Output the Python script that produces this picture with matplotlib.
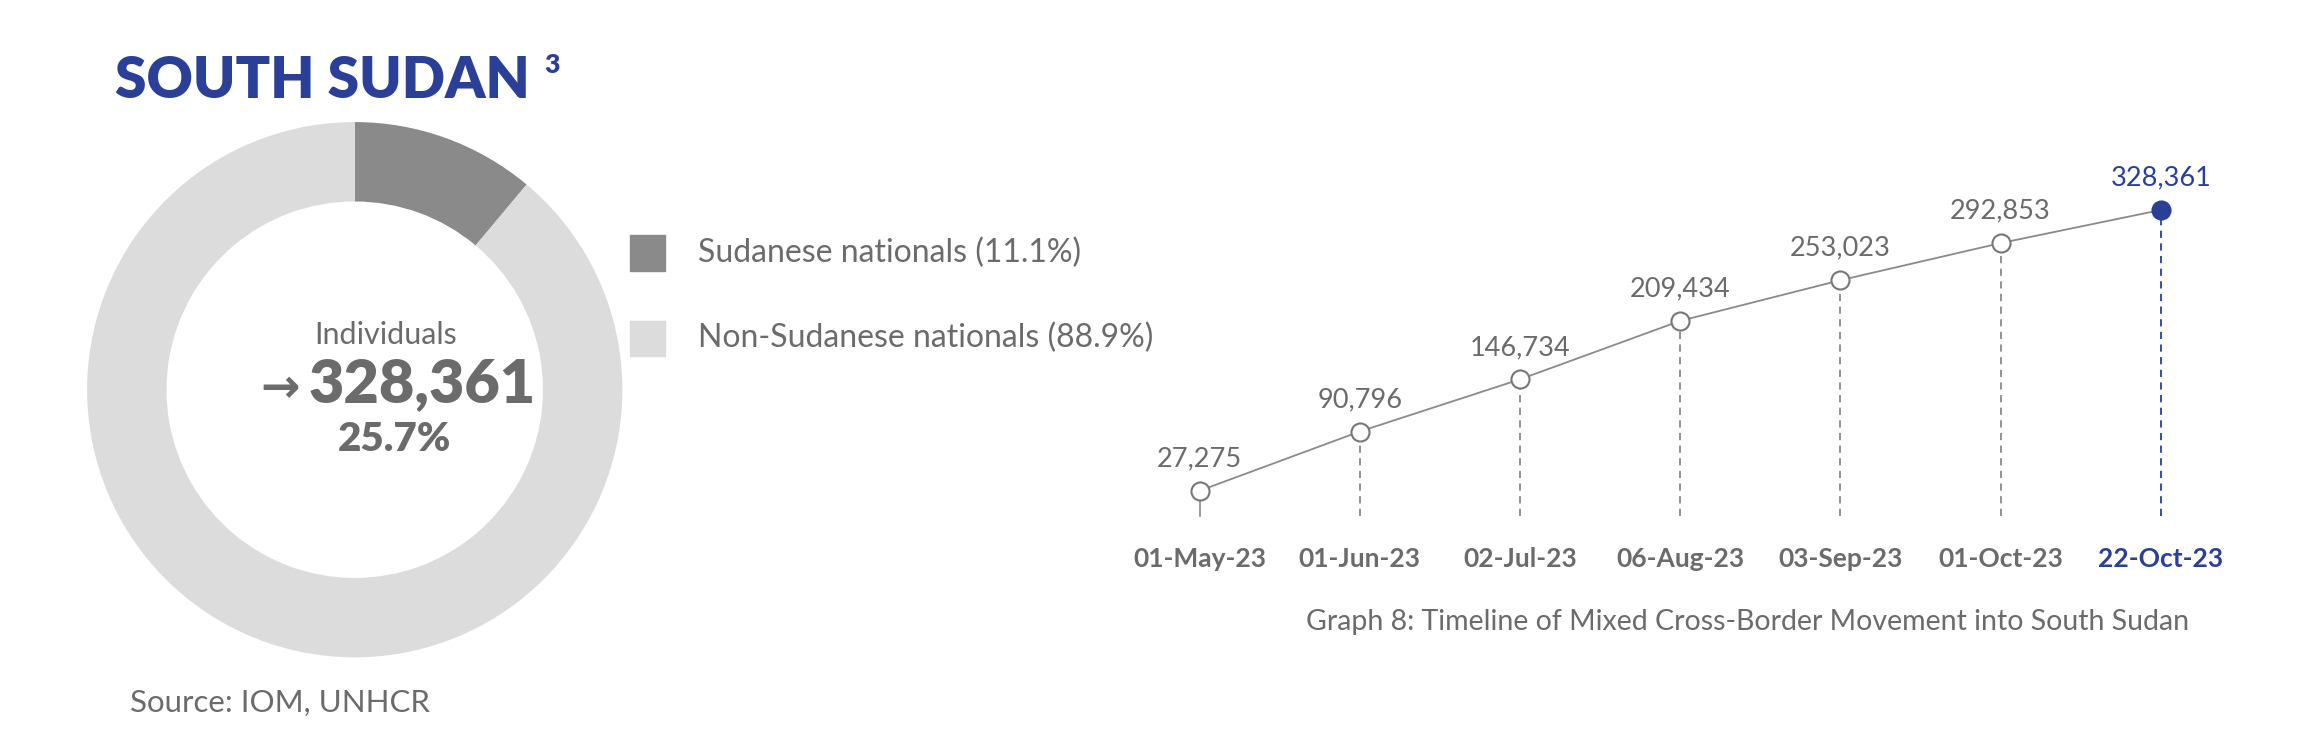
import matplotlib
matplotlib.use("Agg")
import matplotlib.pyplot as plt

plt.rcParams['font.family'] = ['Lato', 'DejaVu Sans']

share_labels = ["Sudanese nationals (11.1%)", "Non-Sudanese nationals (88.9%)"]
share_values = [11.1, 88.9]
dates = ["01-May-23", "01-Jun-23", "02-Jul-23", "06-Aug-23", "03-Sep-23", "01-Oct-23", "22-Oct-23"]
totals = [27275, 90796, 146734, 209434, 253023, 292853, 328361]

W, H = 1568, 510
def fx(x): return x / W
def fy(y): return 1 - y / H

fig = plt.figure(figsize=(23.08, 7.5), dpi=100)
fig.patch.set_facecolor("white")
blue = "#2a3f98"
gray = "#6b6b6b"
colors = ["#8a8a8a", "#dcdcdc"]

fig.text(fx(78), fy(55), "SOUTH SUDAN", fontsize=41, fontweight="heavy", color=blue, va="center", ha="left")
fig.text(fx(370), fy(44), "3", fontsize=19, fontweight="heavy", color=blue, va="center", ha="left")

# donut
ax = fig.add_axes([fx(59), fy(447), 364 / W, 364 / H])
ax.pie(share_values, colors=colors, startangle=90, counterclock=False, radius=1,
       wedgeprops=dict(width=54 / 182, edgecolor="none"))
ax.set_xlim(-1, 1)
ax.set_ylim(-1, 1)
ax.set_aspect("equal")
fig.text(fx(262), fy(228), "Individuals", fontsize=22, color=gray, ha="center", va="center")
fig.text(fx(287), fy(261), "328,361", fontsize=44, fontweight="heavy", color=gray, ha="center", va="center")
fig.text(fx(190), fy(265), "→", fontsize=34, fontweight="bold", color=gray, ha="center", va="center", family="DejaVu Sans")
fig.text(fx(268), fy(299), "25.7%", fontsize=29, fontweight="heavy", color=gray, ha="center", va="center")
fig.text(fx(88), fy(478), "Source: IOM, UNHCR", fontsize=22.5, color=gray, ha="left", va="center")

# legend
for i, (lab, c) in enumerate(zip(share_labels, colors)):
    yc = 172 + i * 58
    fig.patches.append(plt.Rectangle((fx(428), fy(yc + 12)), 24 / W, 24 / H, transform=fig.transFigure, color=c))
    fig.text(fx(474), fy(yc), lab, fontsize=23, color=gray, ha="left", va="center")

# line chart
ymax = 340000
lx = fig.add_axes([fx(815), fy(351), (1468 - 815) / W, (351 - 135.4) / H])
xs = list(range(len(totals)))
lx.plot(xs, totals, color="#8a8a8a", lw=1.3, zorder=2, clip_on=False)
for i, v in enumerate(totals):
    last = i == len(totals) - 1
    c = blue if last else "#8a8a8a"
    if i == 0:
        lx.plot([i, i], [0, v], color="#8a8a8a", lw=1.2, clip_on=False)
    else:
        lx.plot([i, i], [0, v], color=c, lw=1.3, ls=(0, (4, 3)), clip_on=False)
    lx.plot(i, v, "o", ms=13, mfc=blue if last else "white", mec=blue if last else "#777777",
            mew=1.5, zorder=3, clip_on=False)
    lx.annotate(f"{v:,}", (i, v), xytext=(0, 14), textcoords="offset points", ha="center", va="bottom",
                fontsize=19.5, color=blue if last else gray)
lx.set_xlim(0, 6)
lx.set_ylim(0, ymax)
lx.axis("off")
for i, d in enumerate(dates):
    fig.text(fx(815 + i * (1468 - 815) / 6), fy(380), d, fontsize=19, fontweight="bold",
             color=blue if i == 6 else gray, ha="center", va="center")
fig.text(fx(1187), fy(423), "Graph 8: Timeline of Mixed Cross-Border Movement into South Sudan",
         fontsize=20.5, color=gray, ha="center", va="center")

fig.savefig("out.png", dpi=100, facecolor="white")
